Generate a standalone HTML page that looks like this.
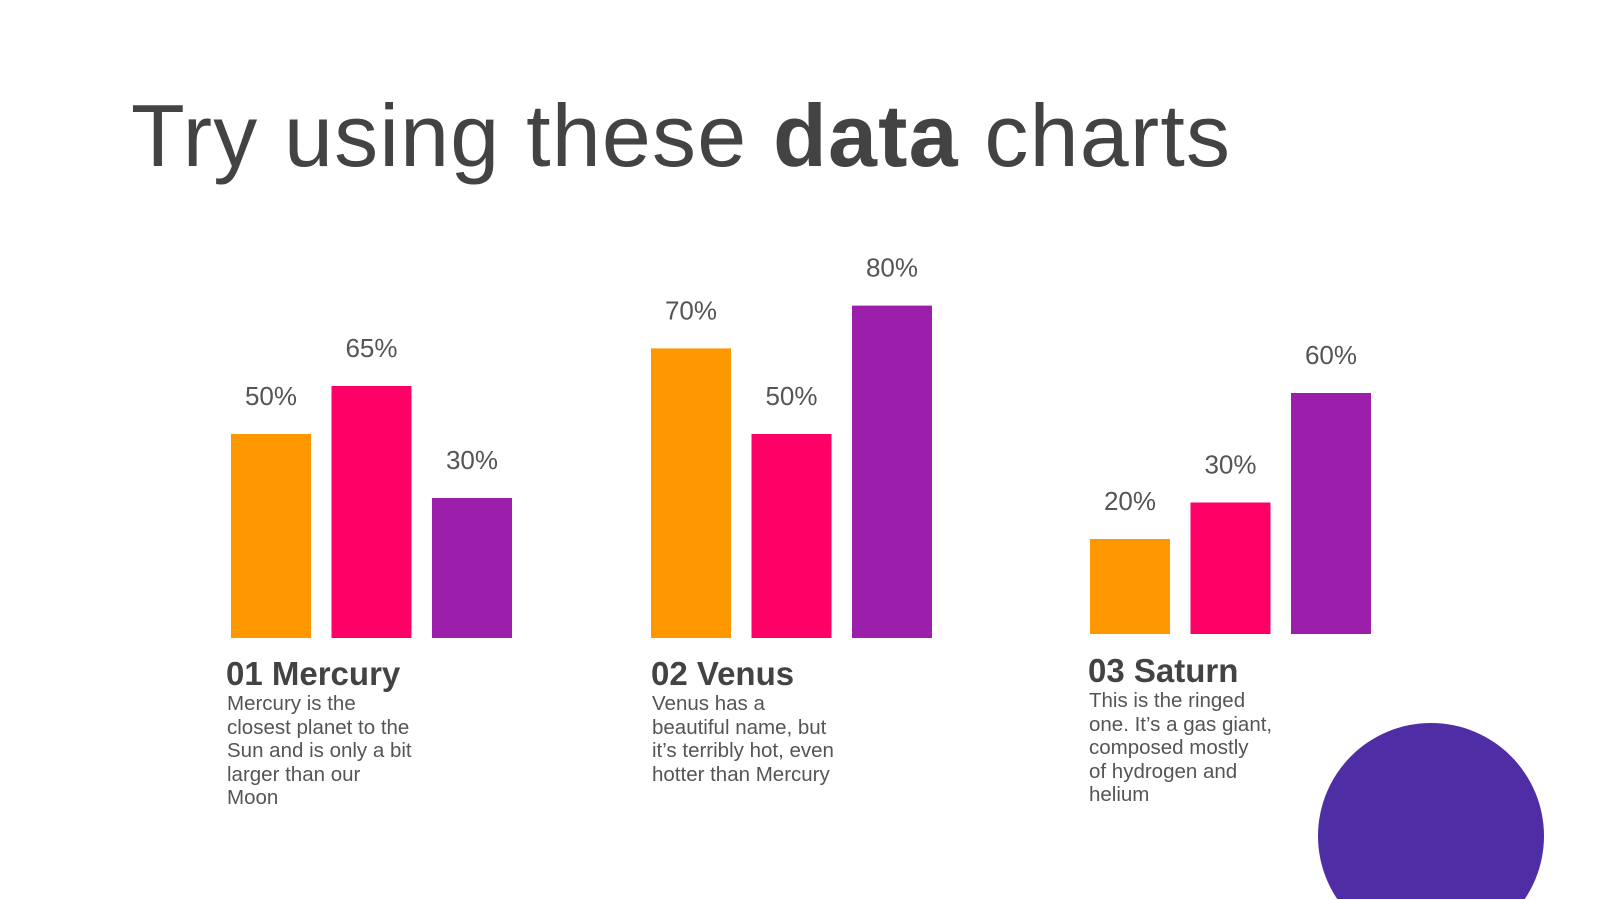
<!DOCTYPE html>
<html><head><meta charset="utf-8"><style>
html,body{margin:0;width:1600px;height:900px;overflow:hidden}
body{background:#fff;position:relative;font-family:"Liberation Sans",sans-serif;color:#434343}
#frame{position:absolute;left:0;top:0;width:1600px;height:900px;overflow:hidden}
.title{position:absolute;left:131px;top:85px;font-size:88px;letter-spacing:1.2px;white-space:nowrap}
.h{position:absolute;font-size:33px;font-weight:bold;white-space:nowrap}
.d{position:absolute;font-size:20.5px;line-height:23.5px;color:#555;white-space:nowrap}
</style></head><body><div id="frame">
<div class="title">Try using these <b>data</b> charts</div>
<svg id="chart" width="1600" height="700" style="position:absolute;left:0;top:0;display:block"></svg>
<div class="h" style="left:226px;top:655px">01 Mercury</div>
<div class="d" style="left:227px;top:692px">Mercury is the<br>closest planet to the<br>Sun and is only a bit<br>larger than our<br>Moon</div>
<div class="h" style="left:651px;top:655px">02 Venus</div>
<div class="d" style="left:652px;top:692px">Venus has a<br>beautiful name, but<br>it’s terribly hot, even<br>hotter than Mercury</div>
<div class="h" style="left:1088px;top:652px">03 Saturn</div>
<div class="d" style="left:1089px;top:689px">This is the ringed<br>one. It’s a gas giant,<br>composed mostly<br>of hydrogen and<br>helium</div>
<svg style="position:absolute;left:1318px;top:723px;display:block" width="226" height="176"><circle cx="113" cy="113" r="113" fill="#4F2DA5"/></svg>
</div>
<script>
const groups=["Mercury","Venus","Saturn"];
const series1=[50,70,20];
const series2=[65,50,30];
const series3=[30,80,60];
const colors=["#FF9800","#FF0066","#9C1FAB"];
const groupX=[231,651,1090];
const baseY=[638,638,634];
// per-chart axis: height = offset + slope*value
const axOff=[44,-10,22];
const axSlope=[3.2,4.28,3.65];
const bw=80, step=100.5;
const svg=document.getElementById('chart');
const NS='http://www.w3.org/2000/svg';
const all=[series1,series2,series3];
groups.forEach((g,gi)=>{
  all.forEach((s,si)=>{
    const v=s[gi];const h=axOff[gi]+axSlope[gi]*v;const x=groupX[gi]+si*step;const y=baseY[gi]-h;
    const r=document.createElementNS(NS,'rect');
    r.setAttribute('x',x);r.setAttribute('y',y);r.setAttribute('width',bw);r.setAttribute('height',h);r.setAttribute('fill',colors[si]);
    
    
    svg.appendChild(r);
    const t=document.createElementNS(NS,'text');
    t.setAttribute('x',x+bw/2);t.setAttribute('y',y-29);t.setAttribute('text-anchor','middle');
    t.setAttribute('font-size','26');t.setAttribute('fill','#555');t.setAttribute('font-family','Liberation Sans, sans-serif');
    t.textContent=v+'%';
    
    
    svg.appendChild(t);
  });
});
</script>
</body></html>
